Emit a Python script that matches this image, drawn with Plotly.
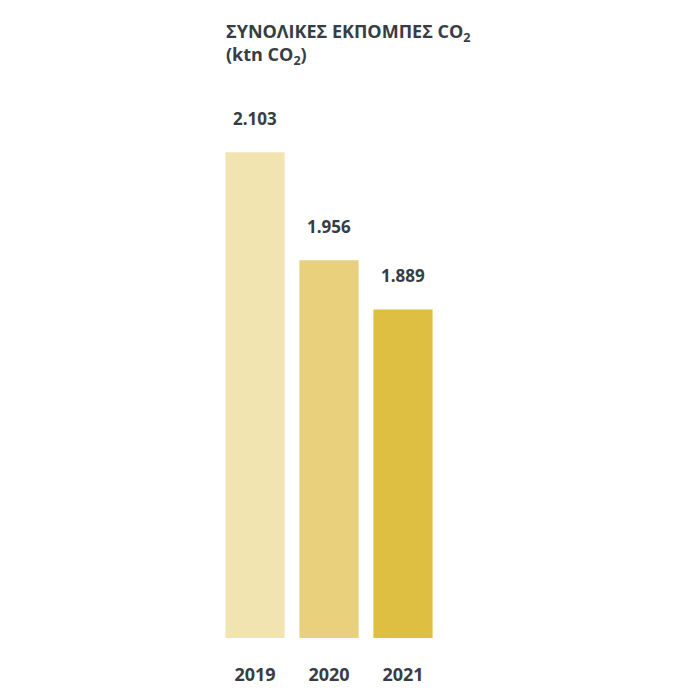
import plotly.graph_objects as go

# δεδομένα
years = ['2019', '2020', '2021']
emissions = [2.103, 1.956, 1.889]
value_labels = ['2.103', '1.956', '1.889']
bar_colors = ['#F2E4B0', '#E8D07C', '#DEBF42']

text_color = '#373D43'
font_name = 'Open Sans'

fig = go.Figure(go.Bar(x=years, y=emissions,
                       marker=dict(color=bar_colors, line=dict(width=0)),
                       hoverinfo='skip'))

# ετικέτες τιμών πάνω από τις μπάρες (x = θέση κατηγορίας)
for i, (val, lab) in enumerate(zip(emissions, value_labels)):
    fig.add_annotation(x=i, y=val, text='<b>%s</b>' % lab, showarrow=False,
                       yanchor='middle', yshift=34,
                       font=dict(family=font_name, size=17, color=text_color))

fig.update_layout(
    width=700, height=700,
    paper_bgcolor='white', plot_bgcolor='white',
    margin=dict(l=210, r=268, t=92, b=70),
    bargap=0.2,
    showlegend=False,
    title=dict(text='<b>ΣΥΝΟΛΙΚΕΣ ΕΚΠΟΜΠΕΣ CO<sub>2</sub><br>(ktn CO<sub>2</sub>)</b>',
               xref='container', yref='container', x=218/700, xanchor='left',
               y=1 - 30/700, yanchor='top', pad=dict(l=0, r=0, t=0, b=0),
               font=dict(family=font_name, size=18, color=text_color)),
)
fig.update_xaxes(type='category', range=[-0.5, 2.5], showline=False, showgrid=False,
                 zeroline=False, ticks='outside', ticklen=20, tickcolor='white',
                 tickfont=dict(family=font_name, size=18, color=text_color, weight='bold'))
fig.update_yaxes(visible=False, range=[1.442, 1.442 + 538/735])

fig.write_html("out.html")
